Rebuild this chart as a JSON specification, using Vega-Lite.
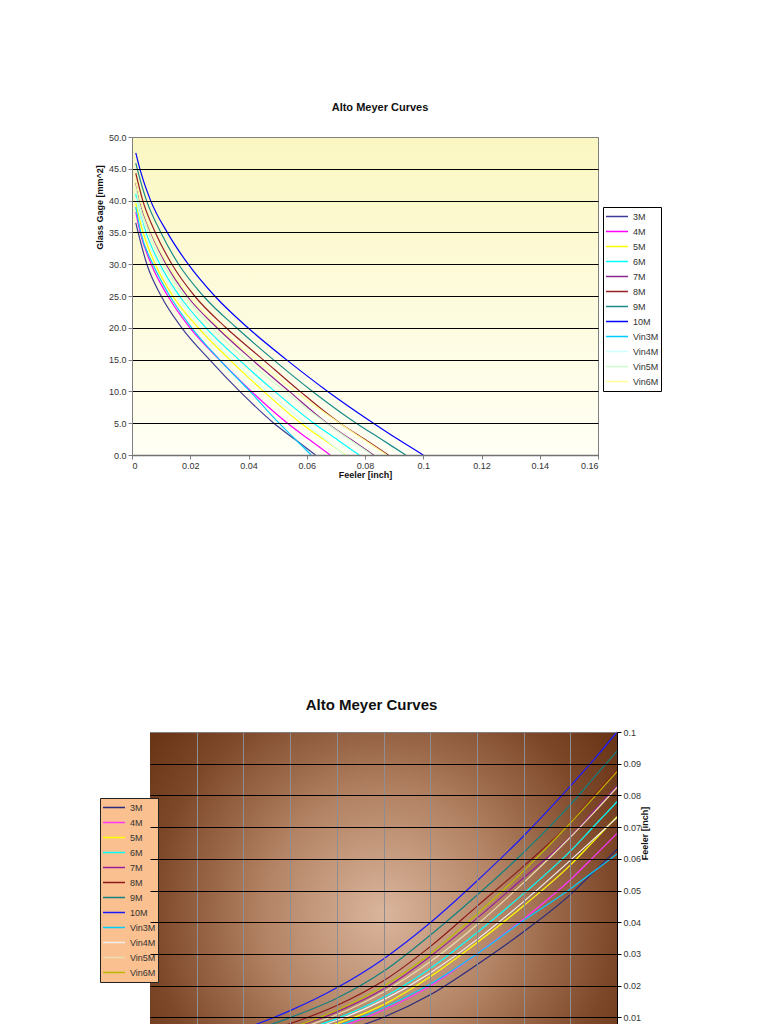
{
  "$schema": "https://vega.github.io/schema/vega-lite/v6.json",
  "padding": {"left": 94, "top": 101, "right": 5, "bottom": 5},
  "background": "white",
  "config": {
    "font": "Liberation Sans",
    "view": {"stroke": null},
    "axis": {"labelFont": "Liberation Sans", "titleFont": "Liberation Sans", "labelFontSize": 9, "labelColor": "#333333", "titleFontSize": 9, "titleFontWeight": "bold", "titleColor": "#111111"},
    "legend": {"labelFont": "Liberation Sans", "labelFontSize": 9, "labelColor": "#333333"},
    "title": {"font": "Liberation Sans", "color": "#111111"}
  },
  "datasets": {
    "curves": [
      {"series": "3M", "feeler": 0.0013, "glass": 36.5}, {"series": "3M", "feeler": 0.0021, "glass": 35}, {"series": "3M", "feeler": 0.0051, "glass": 30}, {"series": "3M", "feeler": 0.0100, "glass": 25}, {"series": "3M", "feeler": 0.0171, "glass": 20}, {"series": "3M", "feeler": 0.0266, "glass": 15}, {"series": "3M", "feeler": 0.0370, "glass": 10}, {"series": "3M", "feeler": 0.0487, "glass": 5}, {"series": "3M", "feeler": 0.0558, "glass": 2.5}, {"series": "3M", "feeler": 0.0630, "glass": 0},
      {"series": "4M", "feeler": 0.0013, "glass": 38.2}, {"series": "4M", "feeler": 0.0028, "glass": 35}, {"series": "4M", "feeler": 0.0066, "glass": 30}, {"series": "4M", "feeler": 0.0123, "glass": 25}, {"series": "4M", "feeler": 0.0199, "glass": 20}, {"series": "4M", "feeler": 0.0300, "glass": 15}, {"series": "4M", "feeler": 0.0410, "glass": 10}, {"series": "4M", "feeler": 0.0534, "glass": 5}, {"series": "4M", "feeler": 0.0606, "glass": 2.5}, {"series": "4M", "feeler": 0.0680, "glass": 0},
      {"series": "5M", "feeler": 0.0013, "glass": 39.6}, {"series": "5M", "feeler": 0.0038, "glass": 35}, {"series": "5M", "feeler": 0.0080, "glass": 30}, {"series": "5M", "feeler": 0.0140, "glass": 25}, {"series": "5M", "feeler": 0.0228, "glass": 20}, {"series": "5M", "feeler": 0.0335, "glass": 15}, {"series": "5M", "feeler": 0.0452, "glass": 10}, {"series": "5M", "feeler": 0.0580, "glass": 5}, {"series": "5M", "feeler": 0.0656, "glass": 2.5}, {"series": "5M", "feeler": 0.0733, "glass": 0},
      {"series": "6M", "feeler": 0.0013, "glass": 41.1}, {"series": "6M", "feeler": 0.0017, "glass": 40}, {"series": "6M", "feeler": 0.0048, "glass": 35}, {"series": "6M", "feeler": 0.0096, "glass": 30}, {"series": "6M", "feeler": 0.0163, "glass": 25}, {"series": "6M", "feeler": 0.0254, "glass": 20}, {"series": "6M", "feeler": 0.0367, "glass": 15}, {"series": "6M", "feeler": 0.0490, "glass": 10}, {"series": "6M", "feeler": 0.0624, "glass": 5}, {"series": "6M", "feeler": 0.0702, "glass": 2.5}, {"series": "6M", "feeler": 0.0780, "glass": 0},
      {"series": "7M", "feeler": 0.0013, "glass": 42.8}, {"series": "7M", "feeler": 0.0026, "glass": 40}, {"series": "7M", "feeler": 0.0064, "glass": 35}, {"series": "7M", "feeler": 0.0117, "glass": 30}, {"series": "7M", "feeler": 0.0189, "glass": 25}, {"series": "7M", "feeler": 0.0292, "glass": 20}, {"series": "7M", "feeler": 0.0412, "glass": 15}, {"series": "7M", "feeler": 0.0540, "glass": 10}, {"series": "7M", "feeler": 0.0670, "glass": 5}, {"series": "7M", "feeler": 0.0750, "glass": 2.5}, {"series": "7M", "feeler": 0.0830, "glass": 0},
      {"series": "8M", "feeler": 0.0013, "glass": 44.3}, {"series": "8M", "feeler": 0.0037, "glass": 40}, {"series": "8M", "feeler": 0.0080, "glass": 35}, {"series": "8M", "feeler": 0.0137, "glass": 30}, {"series": "8M", "feeler": 0.0215, "glass": 25}, {"series": "8M", "feeler": 0.0323, "glass": 20}, {"series": "8M", "feeler": 0.0450, "glass": 15}, {"series": "8M", "feeler": 0.0577, "glass": 10}, {"series": "8M", "feeler": 0.0714, "glass": 5}, {"series": "8M", "feeler": 0.0798, "glass": 2.5}, {"series": "8M", "feeler": 0.0880, "glass": 0},
      {"series": "9M", "feeler": 0.0013, "glass": 45.9}, {"series": "9M", "feeler": 0.0018, "glass": 45}, {"series": "9M", "feeler": 0.0050, "glass": 40}, {"series": "9M", "feeler": 0.0099, "glass": 35}, {"series": "9M", "feeler": 0.0160, "glass": 30}, {"series": "9M", "feeler": 0.0245, "glass": 25}, {"series": "9M", "feeler": 0.0359, "glass": 20}, {"series": "9M", "feeler": 0.0485, "glass": 15}, {"series": "9M", "feeler": 0.0620, "glass": 10}, {"series": "9M", "feeler": 0.0770, "glass": 5}, {"series": "9M", "feeler": 0.0855, "glass": 2.5}, {"series": "9M", "feeler": 0.0940, "glass": 0},
      {"series": "10M", "feeler": 0.0013, "glass": 47.5}, {"series": "10M", "feeler": 0.0027, "glass": 45}, {"series": "10M", "feeler": 0.0064, "glass": 40}, {"series": "10M", "feeler": 0.0121, "glass": 35}, {"series": "10M", "feeler": 0.0193, "glass": 30}, {"series": "10M", "feeler": 0.0284, "glass": 25}, {"series": "10M", "feeler": 0.0398, "glass": 20}, {"series": "10M", "feeler": 0.0530, "glass": 15}, {"series": "10M", "feeler": 0.0672, "glass": 10}, {"series": "10M", "feeler": 0.0829, "glass": 5}, {"series": "10M", "feeler": 0.0912, "glass": 2.5}, {"series": "10M", "feeler": 0.1000, "glass": 0},
      {"series": "Vin3M", "feeler": 0.0013, "glass": 39.0}, {"series": "Vin3M", "feeler": 0.0030, "glass": 35}, {"series": "Vin3M", "feeler": 0.0072, "glass": 30}, {"series": "Vin3M", "feeler": 0.0130, "glass": 25}, {"series": "Vin3M", "feeler": 0.0205, "glass": 20}, {"series": "Vin3M", "feeler": 0.0300, "glass": 15}, {"series": "Vin3M", "feeler": 0.0405, "glass": 10}, {"series": "Vin3M", "feeler": 0.0505, "glass": 5}, {"series": "Vin3M", "feeler": 0.0560, "glass": 2.5}, {"series": "Vin3M", "feeler": 0.0615, "glass": 0},
      {"series": "Vin4M", "feeler": 0.0013, "glass": 40.5}, {"series": "Vin4M", "feeler": 0.0044, "glass": 35}, {"series": "Vin4M", "feeler": 0.0090, "glass": 30}, {"series": "Vin4M", "feeler": 0.0155, "glass": 25}, {"series": "Vin4M", "feeler": 0.0240, "glass": 20}, {"series": "Vin4M", "feeler": 0.0345, "glass": 15}, {"series": "Vin4M", "feeler": 0.0465, "glass": 10}, {"series": "Vin4M", "feeler": 0.0595, "glass": 5}, {"series": "Vin4M", "feeler": 0.0662, "glass": 2.5}, {"series": "Vin4M", "feeler": 0.0730, "glass": 0},
      {"series": "Vin5M", "feeler": 0.0013, "glass": 42.0}, {"series": "Vin5M", "feeler": 0.0022, "glass": 40}, {"series": "Vin5M", "feeler": 0.0056, "glass": 35}, {"series": "Vin5M", "feeler": 0.0108, "glass": 30}, {"series": "Vin5M", "feeler": 0.0180, "glass": 25}, {"series": "Vin5M", "feeler": 0.0275, "glass": 20}, {"series": "Vin5M", "feeler": 0.0392, "glass": 15}, {"series": "Vin5M", "feeler": 0.0525, "glass": 10}, {"series": "Vin5M", "feeler": 0.0668, "glass": 5}, {"series": "Vin5M", "feeler": 0.0745, "glass": 2.5}, {"series": "Vin5M", "feeler": 0.0825, "glass": 0},
      {"series": "Vin6M", "feeler": 0.0013, "glass": 43.0}, {"series": "Vin6M", "feeler": 0.0028, "glass": 40}, {"series": "Vin6M", "feeler": 0.0066, "glass": 35}, {"series": "Vin6M", "feeler": 0.0122, "glass": 30}, {"series": "Vin6M", "feeler": 0.0198, "glass": 25}, {"series": "Vin6M", "feeler": 0.0300, "glass": 20}, {"series": "Vin6M", "feeler": 0.0425, "glass": 15}, {"series": "Vin6M", "feeler": 0.0562, "glass": 10}, {"series": "Vin6M", "feeler": 0.0713, "glass": 5}, {"series": "Vin6M", "feeler": 0.0793, "glass": 2.5}, {"series": "Vin6M", "feeler": 0.0875, "glass": 0}
    ]
  },
  "bounds": "flush",
  "spacing": 277,
  "resolve": {
    "scale": {"x": "independent", "y": "independent", "color": "independent"},
    "axis": {"x": "independent", "y": "independent"},
    "legend": {"color": "independent"}
  },
  "vconcat": [
    {
      "width": 466,
      "height": 318,
      "view": {"stroke": "#808080", "strokeWidth": 1},
      "title": {"text": "Alto Meyer Curves", "fontSize": 11, "fontWeight": "bold", "offset": 20, "dx": 15},
      "encoding": {
        "x": {"type": "quantitative", "scale": {"domain": [0, 0.16], "nice": false, "zero": false},
          "axis": {"zindex": 1, "title": "Feeler [inch]", "values": [0, 0.02, 0.04, 0.06, 0.08, 0.1, 0.12, 0.14, 0.16], "format": "~g", "grid": false, "domainColor": "#707070", "domainWidth": 1.5, "tickColor": "#808080", "tickSize": 4, "labelPadding": 2, "titlePadding": 0}},
        "y": {"type": "quantitative", "scale": {"domain": [0, 50], "nice": false},
          "axis": {"zindex": 1, "title": "Glass Gage [mm^2]", "values": [0, 5, 10, 15, 20, 25, 30, 35, 40, 45, 50], "format": ".1f", "grid": true, "gridColor": {"condition": {"test": "datum.value >= 50", "value": "#808080"}, "value": "#000000"}, "gridWidth": 1, "domainColor": "#808080", "tickColor": "#808080", "tickSize": 4, "labelPadding": 2, "titleX": -33, "titleY": 70, "titleAlign": "center", "titleBaseline": "middle", "titleAngle": 270}}
      },
      "layer": [
        {
          "data": {"values": [{}]},
          "mark": {"type": "rect", "stroke": null, "fill": {"gradient": "linear", "x1": 0, "y1": 0, "x2": 0, "y2": 1, "stops": [{"offset": 0, "color": "#fbf7c2"}, {"offset": 1, "color": "#fffff5"}]}},
          "encoding": {
            "x": {"datum": 0},
            "x2": {"datum": 0.16},
            "y": {"datum": 0},
            "y2": {"datum": 50}
          }
        },
        {
          "data": {"name": "curves"},
          "mark": {"type": "line", "interpolate": "monotone", "strokeWidth": 1.2},
          "encoding": {
            "x": {"field": "feeler"},
            "y": {"field": "glass"},
            "color": {"field": "series", "type": "nominal",
              "scale": {"domain": ["3M", "4M", "5M", "6M", "7M", "8M", "9M", "10M", "Vin3M", "Vin4M", "Vin5M", "Vin6M"],
                "range": ["#3d3d99", "#ff00ff", "#ffff00", "#00ffff", "#8e248e", "#962222", "#1a8a8a", "#0000ff", "#00ccff", "#ccffff", "#ccffcc", "#ffff99"]},
              "legend": {"title": null, "orient": "none", "legendX": 471, "legendY": 70, "symbolType": "stroke", "symbolSize": 484, "symbolStrokeWidth": 1.5, "clipHeight": 15, "rowPadding": 0, "padding": 2, "labelOffset": 4, "fillColor": "#ffffff", "strokeColor": "#000000"}}
          }
        }
      ]
    },
    {
      "hconcat": [
        {
          "width": 18,
          "height": 10,
          "data": {"values": []},
          "mark": "point",
          "encoding": {}
        },
        {
          "width": 467,
          "height": 317,
          "title": {"text": "Alto Meyer Curves", "fontSize": 15, "fontWeight": "bold", "offset": 15, "dx": -12},
          "encoding": {
            "x": {"type": "quantitative", "scale": {"domain": [50, 0], "nice": false, "zero": false},
              "axis": {"zindex": 1, "orient": "top", "title": null, "labels": false, "ticks": false, "values": [5, 10, 15, 20, 25, 30, 35, 40, 45], "grid": true, "gridColor": "#8d8d92", "gridWidth": 1, "domainColor": "#808080"}},
            "y": {"type": "quantitative", "scale": {"domain": [0, 0.1], "nice": false},
              "axis": {"zindex": 1, "orient": "right", "title": "Feeler [inch]", "values": [0.01, 0.02, 0.03, 0.04, 0.05, 0.06, 0.07, 0.08, 0.09, 0.1], "format": "~g", "grid": true, "gridColor": {"condition": {"test": "datum.value >= 0.1", "value": "#808080"}, "value": "#000000"}, "gridWidth": 1, "domainColor": "#000000", "tickColor": "#000000", "tickSize": 4, "labelPadding": 2, "titleAngle": 270, "titleX": 27, "titleY": 101, "titleAlign": "center", "titleBaseline": "middle"}}
          },
          "layer": [
            {
              "data": {"values": [{}]},
              "mark": {"type": "rect", "stroke": null, "fill": {"gradient": "radial", "x1": 0.5, "y1": 0.55, "r1": 0, "x2": 0.5, "y2": 0.55, "r2": 0.62, "stops": [{"offset": 0, "color": "#dab59c"}, {"offset": 0.4, "color": "#b48566"}, {"offset": 0.8, "color": "#7d4829"}, {"offset": 1, "color": "#6a3516"}]}},
              "encoding": {
                "x": {"datum": 50},
                "x2": {"datum": 0},
                "y": {"datum": 0},
                "y2": {"datum": 0.1}
              }
            },
            {
              "data": {"name": "curves"},
              "mark": {"type": "line", "interpolate": "monotone", "strokeWidth": 1.2},
              "encoding": {
                "x": {"field": "glass"},
                "y": {"field": "feeler"},
                "order": {"field": "glass", "sort": "descending"},
                "color": {"field": "series", "type": "nominal",
                  "scale": {"domain": ["3M", "4M", "5M", "6M", "7M", "8M", "9M", "10M", "Vin3M", "Vin4M", "Vin5M", "Vin6M"],
                    "range": ["#2a2a80", "#ff33ff", "#ffff00", "#00ffff", "#991f99", "#8b1a1a", "#138080", "#1a1aff", "#00ccff", "#f0f0f0", "#e8dcb0", "#b8b800"]},
                  "legend": {"title": null, "orient": "none", "legendX": -50, "legendY": 66, "symbolType": "stroke", "symbolSize": 484, "symbolStrokeWidth": 1.5, "clipHeight": 15, "rowPadding": 0, "padding": 2, "labelOffset": 4, "fillColor": "#fbc08f", "strokeColor": "#222222"}}
              }
            }
          ]
        }
      ],
      "spacing": 0,
      "bounds": "flush",
      "resolve": {
        "scale": {"x": "independent", "y": "independent", "color": "independent"},
        "axis": {"x": "independent", "y": "independent"},
        "legend": {"color": "independent"}
      }
    }
  ]
}
